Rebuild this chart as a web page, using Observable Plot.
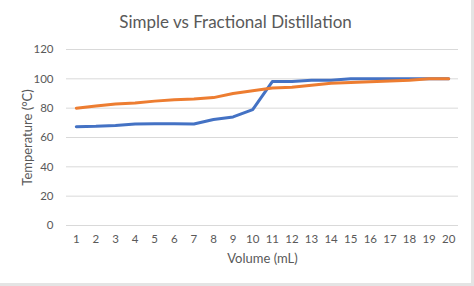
<!DOCTYPE html>
<html>
<head>
<meta charset="utf-8">
<script src="https://cdn.jsdelivr.net/npm/d3@7"></script>
<script src="https://cdn.jsdelivr.net/npm/@observablehq/plot@0.6"></script>
<style>
  html, body { margin: 0; padding: 0; background: #e4e4e4; }
  #card { position: absolute; left: 0; top: 0; width: 471px; height: 283px; background: #fff; overflow: hidden; }
  #title { position: absolute; left: 0; top: 10px; width: 471px; text-align: center; font-family: Lato, "Open Sans", sans-serif; font-size: 17px; color: #595959; line-height: 24px; }
  #chart { position: absolute; left: 0; top: 36px; }
  #chart svg { font-family: Lato, "Open Sans", sans-serif; }
</style>
</head>
<body>
<div id="card">
  <div id="title">Simple vs Fractional Distillation</div>
  <div id="chart"></div>
</div>
<script>
const volumes = [1,2,3,4,5,6,7,8,9,10,11,12,13,14,15,16,17,18,19,20];
const simple = [67.3,67.6,68.2,69.2,69.3,69.3,69.2,72.3,74,79,98.1,98.1,99,99.1,100,100,100,100,100,100];
const fractional = [80,81.5,82.8,83.5,84.8,85.8,86.3,87.2,90,91.8,93.8,94.2,95.6,97,97.5,98,98.5,99,100,100];
const yTicks = [0,20,40,60,80,100,120];
const seriesNames = ["Simple", "Fractional"];
const colors = ["#4472C4", "#ED7D31"];
const xTitle = "Volume (mL)";
const yTitle = "Temperature (°C)";

const rows = [];
volumes.forEach((v, i) => {
  rows.push({volume: v, temp: simple[i], series: seriesNames[0]});
  rows.push({volume: v, temp: fractional[i], series: seriesNames[1]});
});

const chart = Plot.plot({
  width: 471,
  height: 247,
  marginLeft: 66,
  marginRight: 13,
  marginTop: 13,
  marginBottom: 58,
  style: {fontSize: "11.5px", color: "#595959", background: "transparent"},
  x: {type: "point", domain: volumes, padding: 0.5, round: false, label: null, tickSize: 0, tickPadding: 9},
  y: {domain: [0, 120], ticks: yTicks, label: null, tickSize: 0, tickPadding: 13},
  color: {domain: seriesNames, range: colors},
  marks: [
    Plot.ruleY(yTicks, {stroke: "#d9d9d9", strokeWidth: 1}),
    Plot.line(rows, {x: "volume", y: "temp", z: "series", stroke: "series", strokeWidth: 3, strokeLinejoin: "round", strokeLinecap: "round"}),
    Plot.text([xTitle], {frameAnchor: "bottom", dy: 37, fontSize: 13, fill: "#595959"}),
    Plot.text([yTitle], {frameAnchor: "left", textAnchor: "middle", dx: -39, rotate: -90, fontSize: 13, fill: "#595959"})
  ]
});
document.getElementById("chart").appendChild(chart);
</script>
</body>
</html>
